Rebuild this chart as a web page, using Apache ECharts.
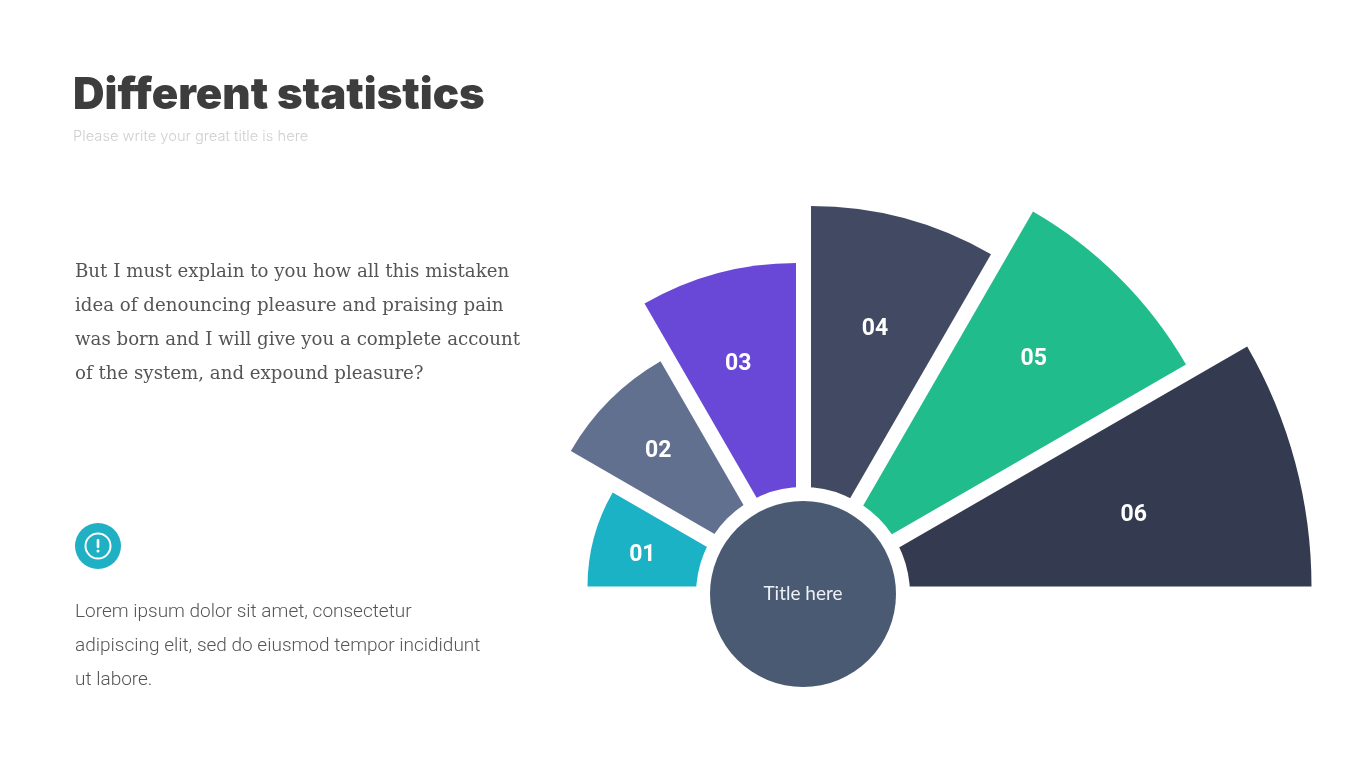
<!DOCTYPE html>
<html>
<head>
<meta charset="utf-8">
<title>Different statistics</title>
<style>
  html, body { margin: 0; padding: 0; background: #fff; }
  #chart { width: 1365px; height: 768px; }
</style>
<script src="https://cdn.jsdelivr.net/npm/echarts@6/dist/echarts.min.js"></script>
</head>
<body>
<div id="chart"></div>
<script>
const categories = ['01', '02', '03', '04', '05', '06'];
// wedge length
const wedgeValues = [188, 245, 303, 360, 418, 480];
const wedgeColors = ['#1cb2c6', '#627090', '#6a48d7', '#414a62', '#21bc8b', '#343a4f'];
const bodyLines = [
  'But I must explain to you how all this mistaken',
  'idea of denouncing pleasure and praising pain',
  'was born and I will give you a complete account',
  'of the system, and expound pleasure?'
];
const noteLines = [
  'Lorem ipsum dolor sit amet, consectetur',
  'adipiscing elit, sed do eiusmod tempor incididunt',
  'ut labore.'
];

const CX = 803;
const CY = 594;
const SPAN = 30; // degrees per wedge
const GAP = 7.5; // half of the white gap between wedges
// where the number sits along each wedge: [share of length, angle inside the wedge]
const labelAt = [[0.73, 166], [0.72, 135], [0.70, 105.8], [0.687, 75], [0.72, 45.8], [0.648, 13.7]];

const chart = echarts.init(document.getElementById('chart'));

function textLines(lines, x, y, step, style) {
  return lines.map((line, i) => ({
    type: 'text',
    x: x,
    y: y + i * step,
    style: Object.assign({ text: line, textVerticalAlign: 'middle' }, style)
  }));
}

function renderWedge(params, api) {
  const i = params.dataIndex;
  const value = api.value(1);
  const mid = 180 - (i + 0.5) * SPAN;
  const rad = mid * Math.PI / 180;
  const center = api.coord([0, 0]);
  const tip = api.coord([value, 0]);
  const r = Math.hypot(tip[0] - center[0], tip[1] - center[1]);
  // each wedge starts from its own apex so the gaps keep the same width
  const shift = GAP / Math.sin(SPAN / 2 * Math.PI / 180);
  const ax = center[0] + shift * Math.cos(rad);
  const ay = center[1] - shift * Math.sin(rad);
  const lab = labelAt[i];
  const labRad = lab[1] * Math.PI / 180;
  return {
    type: 'group',
    children: [
      {
        type: 'sector',
        shape: {
          cx: ax, cy: ay, r0: 0, r: r,
          startAngle: -(mid + SPAN / 2) * Math.PI / 180,
          endAngle: -(mid - SPAN / 2) * Math.PI / 180,
          clockwise: true
        },
        style: { fill: wedgeColors[i] }
      },
      {
        type: 'text',
        z2: 5,
        x: ax + r * lab[0] * Math.cos(labRad),
        y: ay - r * lab[0] * Math.sin(labRad) + 2,
        style: {
          text: categories[i],
          fill: '#fff',
          font: '700 23px Roboto',
          align: 'center',
          verticalAlign: 'middle'
        }
      }
    ]
  };
}

const option = {
  animation: false,
  backgroundColor: '#fff',
  polar: { center: [CX + 0.5, CY], radius: 480 },
  angleAxis: { type: 'value', min: 0, max: 360, startAngle: 0, clockwise: false, show: false },
  radiusAxis: { type: 'value', min: 0, max: 480, show: false },
  series: [
    {
      type: 'custom',
      coordinateSystem: 'polar',
      clip: false,
      silent: true,
      z: 1,
      data: categories.map((c, i) => [i, wedgeValues[i]]),
      encode: { radius: 1 },
      renderItem: renderWedge
    },
    {
      // white ring that cuts the inner end of the wedges
      type: 'pie',
      z: 2,
      silent: true,
      center: [CX, CY],
      radius: [0, 107],
      label: { show: false },
      labelLine: { show: false },
      data: [{ value: 1, itemStyle: { color: '#fff' } }]
    },
    {
      type: 'pie',
      z: 3,
      silent: true,
      center: [CX, CY],
      radius: [0, 93],
      label: {
        show: true,
        position: 'center',
        formatter: 'Title here',
        color: '#eef1f5',
        fontFamily: 'Lato',
        fontSize: 19
      },
      labelLine: { show: false },
      data: [{ value: 1, name: 'Title here', itemStyle: { color: '#4a5a73' } }]
    }
  ],
  graphic: [
    { type: 'text', x: 73, y: 96, style: { text: 'Different statistics', fill: '#3d3d3d', font: '900 43.7px Inter', textVerticalAlign: 'middle' } },
    { type: 'text', x: 73, y: 137, style: { text: 'Please write your great title is here', fill: '#cfcfcf', font: '300 14.7px Inter', textVerticalAlign: 'middle' } },
    ...textLines(bodyLines, 75, 272, 34, { fill: '#555', font: '400 18.2px "DejaVu Serif"' }),
    { type: 'circle', shape: { cx: 98, cy: 546, r: 23 }, style: { fill: '#1fb0c4' } },
    { type: 'circle', shape: { cx: 98, cy: 546, r: 12.5 }, style: { fill: 'none', stroke: '#fff', lineWidth: 2 } },
    { type: 'rect', shape: { x: 96.7, y: 539, width: 2.6, height: 9, r: 1 }, style: { fill: '#fff' } },
    { type: 'circle', shape: { cx: 98, cy: 551, r: 1.5 }, style: { fill: '#fff' } },
    ...textLines(noteLines, 75, 612, 34, { fill: '#555', font: '300 19px Roboto' })
  ]
};

chart.setOption(option);
</script>
</body>
</html>
